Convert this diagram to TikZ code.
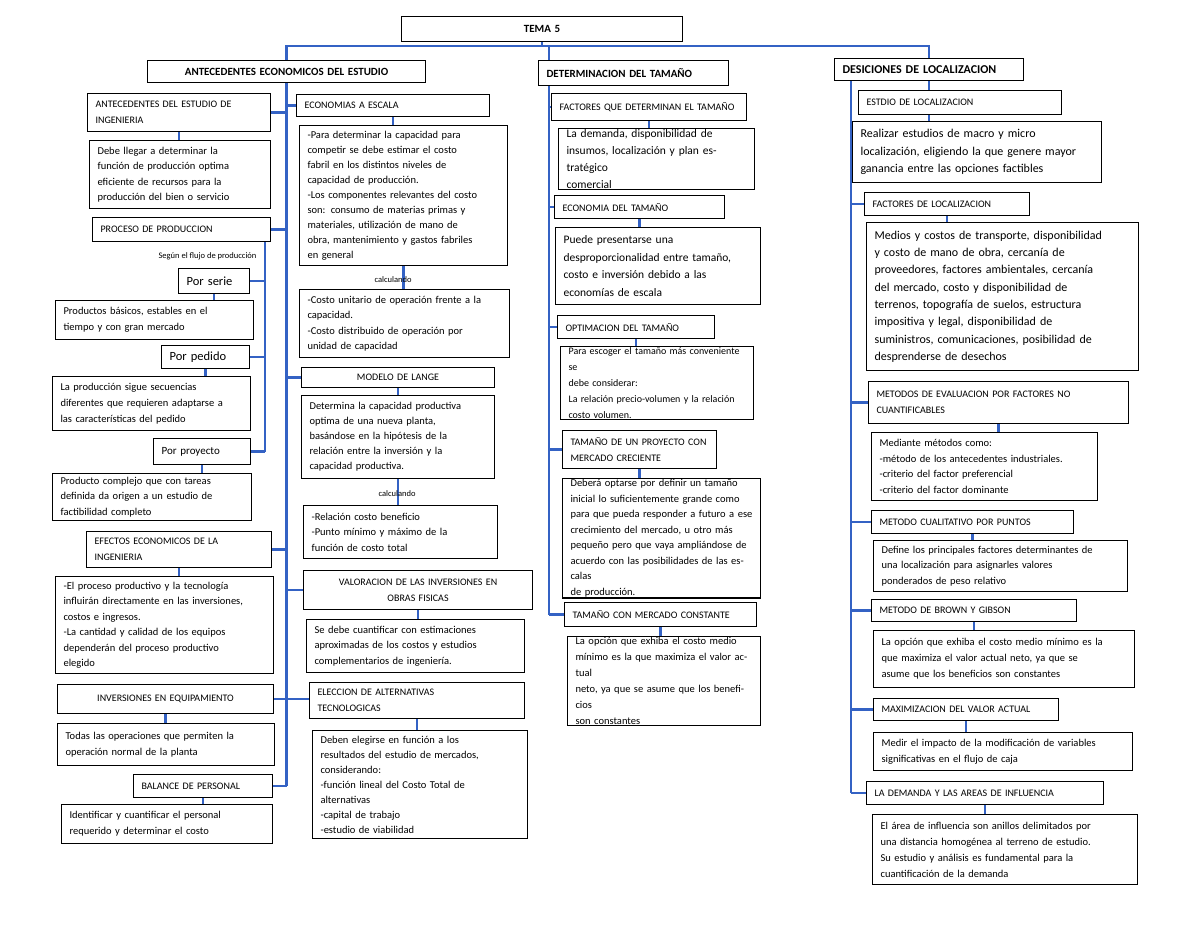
\documentclass[tikz,border=0pt]{standalone}
\usepackage{fontspec}
\setmainfont{Carlito}
\usetikzlibrary{backgrounds}
\definecolor{ln}{RGB}{52,98,196}
\tikzset{
 box/.style={draw=black, line width=1.1pt, fill=white, anchor=north west, inner xsep=8pt, inner ysep=1pt, font=\fontsize{11}{16.5}\selectfont},
 hd/.style={font=\fontsize{10}{16}\selectfont},
 bd/.style={font=\fontsize{11}{16}\selectfont\bfseries},
 conn/.style={draw=ln, line width=2.4pt},
}
\newcommand\bx[7]{%
 \pgfmathsetmacro\ww{#4-#2}\pgfmathsetmacro\hh{#5-#3}\pgfmathsetmacro\tw{#4-#2-16}%
 \node[box,minimum width=\ww pt,minimum height=\hh pt,text width=\tw pt,#6] (#1) at (#2,#3) {#7};}
\begin{document}
\begin{tikzpicture}[x=1pt,y=-1pt]
\useasboundingbox (0,0) rectangle (1200,943);
\bx{tema}{401}{16}{682}{41}{bd,align=center}{TEMA 5}
\bx{antec}{147}{60}{425}{82}{bd,align=center}{ANTECEDENTES ECONOMICOS DEL ESTUDIO}
\bx{deter}{538}{60}{728}{85}{bd,align=left}{DETERMINACION DEL TAMAÑO}
\bx{desic}{834}{58}{1023}{80}{bd,align=left,font=\fontsize{12}{16}\selectfont\bfseries}{DESICIONES DE LOCALIZACION}
% left column
\bx{aei}{87}{93}{270}{131}{hd,align=left}{ANTECEDENTES DEL ESTUDIO DE\\INGENIERIA}
\bx{debe}{89}{140}{270}{208}{align=left,font=\fontsize{10.5}{15.5}\selectfont}{Debe llegar a determinar la\\función de producción optima\\eficiente de recursos para la\\producción del bien o servicio}
\bx{proc}{92}{217}{270}{241}{hd,align=left}{PROCESO DE PRODUCCION}
\node[font=\fontsize{8.5}{10}\selectfont, anchor=east] (seg) at (260,256) {Según el flujo de producción};
\bx{serie}{178}{268}{249}{293}{align=left,font=\fontsize{12.5}{15}\selectfont}{Por serie}
\bx{pbas}{55}{300}{253}{339}{align=left,font=\fontsize{10.5}{16}\selectfont}{Productos básicos, estables en el\\tiempo y con gran mercado}
\bx{pedido}{161}{345}{249}{368}{align=left,font=\fontsize{12.5}{15}\selectfont}{Por pedido}
\bx{lprod}{52}{376}{250}{430}{align=left,font=\fontsize{10.5}{16}\selectfont}{La producción sigue secuencias\\diferentes que requieren adaptarse a\\las características del pedido}
\bx{proy}{153}{438}{250}{464}{align=left,font=\fontsize{11}{15}\selectfont}{Por proyecto}
\bx{pcomp}{52}{473}{251}{520}{align=left,font=\fontsize{10.5}{15.5}\selectfont}{Producto complejo que con tareas\\definida da origen a un estudio de\\factibilidad completo}
\bx{efec}{86}{531}{271}{567}{hd,align=left}{EFECTOS ECONOMICOS DE LA\\INGENIERIA}
\bx{elproc}{55}{576}{273}{673}{align=left,font=\fontsize{10.5}{15.5}\selectfont}{-El proceso productivo y la tecnología\\influirán directamente en las inversiones,\\costos e ingresos.\\-La cantidad y calidad de los equipos\\dependerán del proceso productivo\\elegido}
\bx{inv}{57}{684}{273}{713}{hd,align=center}{INVERSIONES EN EQUIPAMIENTO}
\bx{todas}{57}{723}{274}{765}{align=left,font=\fontsize{10.5}{16}\selectfont}{Todas las operaciones que permiten la\\operación normal de la planta}
\bx{bal}{133}{774}{272}{797}{hd,align=left}{BALANCE DE PERSONAL}
\bx{ident}{61}{804}{272}{843}{align=left,font=\fontsize{10.5}{16}\selectfont}{Identificar y cuantificar el personal\\requerido y determinar el costo}
% middle-left column
\bx{eco}{296}{94}{489}{116}{hd,align=left}{ECONOMIAS A ESCALA}
\bx{para}{299}{125}{507}{265}{align=left,font=\fontsize{10.5}{15}\selectfont}{-Para determinar la capacidad para\\competir se debe estimar el costo\\fabril en los distintos niveles de\\capacidad de producción.\\-Los componentes relevantes del costo\\son: consumo de materias primas y\\materiales, utilización de mano de\\obra, mantenimiento y gastos fabriles\\en general}
\bx{cuni}{299}{289}{509}{357}{align=left,font=\fontsize{10.5}{15.5}\selectfont}{-Costo unitario de operación frente a la\\capacidad.\\-Costo distribuido de operación por\\unidad de capacidad}
\bx{lange}{301}{367}{494}{387}{hd,align=center}{MODELO DE LANGE}
\bx{detcap}{301}{395}{494}{478}{align=left,font=\fontsize{10.5}{15}\selectfont}{Determina la capacidad productiva\\optima de una nueva planta,\\basándose en la hipótesis de la\\relación entre la inversión y la\\capacidad productiva.}
\bx{rel}{303}{505}{497}{558}{align=left,font=\fontsize{10.5}{15.5}\selectfont}{-Relación costo beneficio\\-Punto mínimo y máximo de la\\función de costo total}
\bx{valor}{303}{570}{532}{609}{hd,align=center}{VALORACION DE LAS INVERSIONES EN\\OBRAS FISICAS}
\bx{sedebe}{306}{619}{524}{672}{align=left,font=\fontsize{10.5}{15.5}\selectfont}{Se debe cuantificar con estimaciones\\aproximadas de los costos y estudios\\complementarios de ingeniería.}
\bx{elec}{309}{682}{524}{718}{hd,align=left}{ELECCION DE ALTERNATIVAS\\TECNOLOGICAS}
\bx{deben}{312}{730}{527}{838}{align=left,font=\fontsize{10.5}{15}\selectfont}{Deben elegirse en función a los\\resultados del estudio de mercados,\\considerando:\\-función lineal del Costo Total de\\alternativas\\-capital de trabajo\\-estudio de viabilidad}
\node[font=\fontsize{8.5}{10}\selectfont, anchor=west] (calc1) at (371,280) {calculando};
\node[font=\fontsize{8.5}{10}\selectfont, anchor=west] (calc2) at (375,494) {calculando};
% middle column
\bx{fqd}{551}{93}{746}{120}{hd,align=left}{FACTORES QUE DETERMINAN EL TAMAÑO}
\bx{lad}{558}{128}{754}{187}{align=left,font=\fontsize{11.5}{17}\selectfont}{La demanda, disponibilidad de\\insumos, localización y plan estratégico\\comercial}
\bx{ecot}{554}{195}{724}{218}{hd,align=left}{ECONOMIA DEL TAMAÑO}
\bx{puede}{555}{227}{760}{304}{align=left,font=\fontsize{11.5}{17.5}\selectfont}{Puede presentarse una\\desproporcionalidad entre tamaño,\\costo e inversión debido a las\\economías de escala}
\bx{opt}{557}{315}{714}{338}{hd,align=left}{OPTIMACION DEL TAMAÑO}
\bx{pesc}{560}{346}{753}{419}{align=left,font=\fontsize{10}{16}\selectfont}{Para escoger el tamaño más conveniente se\\debe considerar:\\La relación precio-volumen y la relación\\costo volumen.}
\bx{tcre}{562}{430}{716}{468}{hd,align=left}{TAMAÑO DE UN PROYECTO CON\\MERCADO CRECIENTE}
\bx{debera}{562}{478}{760}{596}{align=left,font=\fontsize{10.5}{15.5}\selectfont}{Deberá optarse por definir un tamaño\\inicial lo suficientemente grande como\\para que pueda responder a futuro a ese\\crecimiento del mercado, u otro más\\pequeño pero que vaya ampliándose de\\acuerdo con las posibilidades de las escalas\\de producción.}
\bx{tcon}{564}{602}{756}{626}{hd,align=left}{TAMAÑO CON MERCADO CONSTANTE}
\bx{laop}{567}{636}{760}{714}{align=left,font=\fontsize{10.5}{16}\selectfont}{La opción que exhiba el costo medio\\mínimo es la que maximiza el valor actual\\neto, ya que se asume que los beneficios\\son constantes}
% right column
\bx{estd}{858}{90}{1061}{114}{hd,align=left}{ESTDIO DE LOCALIZACION}
\bx{real}{852}{121}{1101}{182}{align=left,font=\fontsize{12}{17.5}\selectfont}{Realizar estudios de macro y micro\\localización, eligiendo la que genere mayor\\ganancia entre las opciones factibles}
\bx{floc}{864}{192}{1029}{215}{hd,align=left}{FACTORES DE LOCALIZACION}
\bx{medios}{866}{222}{1138}{370}{align=left,font=\fontsize{12}{17.3}\selectfont}{Medios y costos de transporte, disponibilidad\\y costo de mano de obra, cercanía de\\proveedores, factores ambientales, cercanía\\del mercado, costo y disponibilidad de\\terrenos, topografía de suelos, estructura\\impositiva y legal, disponibilidad de\\suministros, comunicaciones, posibilidad de\\desprenderse de desechos}
\bx{meto}{868}{381}{1128}{423}{hd,align=left}{METODOS DE EVALUACION POR FACTORES NO\\CUANTIFICABLES}
\bx{medi}{871}{432}{1097}{500}{align=left,font=\fontsize{10.5}{15.5}\selectfont}{Mediante métodos como:\\-método de los antecedentes industriales.\\-criterio del factor preferencial\\-criterio del factor dominante}
\bx{mcual}{871}{510}{1073}{533}{hd,align=left}{METODO CUALITATIVO POR PUNTOS}
\bx{defi}{873}{540}{1127}{591}{align=left,font=\fontsize{10.5}{15.5}\selectfont}{Define los principales factores determinantes de\\una localización para asignarles valores\\ponderados de peso relativo}
\bx{brown}{871}{599}{1076}{621}{hd,align=left}{METODO DE BROWN Y GIBSON}
\bx{laop2}{873}{630}{1134}{687}{align=left,font=\fontsize{10.5}{16}\selectfont}{La opción que exhiba el costo medio mínimo es la\\que maximiza el valor actual neto, ya que se\\asume que los beneficios son constantes}
\bx{maxi}{873}{698}{1058}{720}{hd,align=left}{MAXIMIZACION DEL VALOR ACTUAL}
\bx{medir}{873}{732}{1132}{770}{align=left,font=\fontsize{10.5}{16}\selectfont}{Medir el impacto de la modificación de variables\\significativas en el flujo de caja}
\bx{ldem}{866}{781}{1103}{804}{hd,align=left}{LA DEMANDA Y LAS AREAS DE INFLUENCIA}
\bx{area}{872}{814}{1137}{884}{align=left,font=\fontsize{10.5}{16}\selectfont}{El área de influencia son anillos delimitados por\\una distancia homogénea al terreno de estudio.\\Su estudio y análisis es fundamental para la\\cuantificación de la demanda}
\begin{scope}[on background layer]
\coordinate (bus) at (0,46);
\coordinate (ms) at (549,46);
\coordinate (rs) at (851,80);
\coordinate (ps) at (265,241);
\draw[conn] (antec.north) -- (antec.north |- bus) -- (desic.north |- bus) -- (desic.north);
\draw[conn] (tema.south) -- (tema.south |- bus);
% left spine
\draw[conn] (antec.south) -- (antec.south |- bal.east);
\foreach \n in {aei,proc,efec,inv,bal} \draw[conn] (\n.east) -- (\n.east -| antec.south);
\foreach \n in {eco,lange,valor} \draw[conn] (\n.west) -- (\n.west -| antec.south);
\draw[conn] (inv.east) -- (inv.east -| elec.west);
\foreach \p/\c in {aei/debe,serie/pbas,pedido/lprod,proy/pcomp,efec/elproc,inv/todas,bal/ident,eco/para,para/cuni,lange/detcap,detcap/rel,valor/sedebe,elec/deben}
  \draw[conn] (\p.south) -- (\p.south |- \c.north);
% proceso sub-spine
\draw[conn] (ps) -- (ps |- proy.east);
\foreach \n in {serie,pedido,proy} \draw[conn] (\n.east) -- (\n.east -| ps);
% middle spine
\draw[conn] (ms) -- (ms |- tcon.west);
\foreach \n in {fqd,ecot,opt,tcre,tcon} \draw[conn] (\n.west) -- (\n.west -| ms);
\foreach \p/\c in {fqd/lad,ecot/puede,opt/pesc,tcre/debera,tcon/laop}
  \draw[conn] (\p.south) -- (\p.south |- \c.north);
% right spine
\draw[conn] (rs) -- (rs |- ldem.west);
\foreach \n in {floc,meto,mcual,brown,maxi,ldem} \draw[conn] (\n.west) -- (\n.west -| rs);
\draw[conn] (desic.south) -- (desic.south |- real.north);
\foreach \p/\c in {floc/medios,meto/medi,mcual/defi,brown/laop2,maxi/medir,ldem/area}
  \draw[conn] (\p.south) -- (\p.south |- \c.north);
\end{scope}
\end{tikzpicture}
\end{document}
